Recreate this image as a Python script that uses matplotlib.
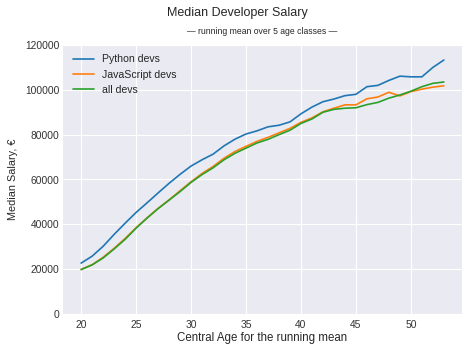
import matplotlib
matplotlib.use("Agg")
import matplotlib.pyplot as plt

ages = list(range(20, 54))
python_devs = [22700, 25800, 30200, 35500, 40500, 45300, 49600, 54000, 58300, 62300,
               66000, 68800, 71300, 75000, 78000, 80300, 81700, 83500, 84200, 85700,
               89300, 92300, 94700, 95900, 97400, 98000, 101400, 102000, 104200, 106100,
               105800, 105800, 110000, 113300]
js_devs = [19900, 22000, 25300, 29300, 33700, 38500, 42900, 47100, 50900, 55000,
           59000, 62700, 65800, 69500, 72500, 74800, 77000, 78800, 80800, 82800,
           85500, 87500, 90200, 91800, 93300, 93300, 96000, 96800, 98900, 97300,
           99200, 100300, 101200, 101800]
all_devs = [19800, 21900, 25000, 29000, 33300, 38300, 42800, 47000, 50800, 54600,
            58700, 62200, 65200, 68800, 71700, 74000, 76300, 77900, 80000, 82000,
            85000, 87000, 90000, 91300, 91800, 92000, 93400, 94400, 96300, 97700,
            99400, 101400, 102900, 103500]

plt.style.use("seaborn-v0_8-darkgrid")
plt.rcParams['font.family'] = ['Liberation Sans', 'DejaVu Sans']

fig = plt.figure(figsize=(4.74, 3.54), dpi=100)
ax = fig.add_axes([63/474, 1-314/354, (462-63)/474, (314-45)/354])

ax.plot(ages, python_devs, label="Python devs", lw=1.2)
ax.plot(ages, js_devs, label="JavaScript devs", lw=1.2)
ax.plot(ages, all_devs, label="all devs", lw=1.2)
ax.set_ylim(0, 120000)
ax.set_yticks(range(0, 120001, 20000))
ax.set_xticks([20, 25, 30, 35, 40, 45, 50])
ax.tick_params(axis='y', labelsize=7.4, colors='#333333', pad=2.5)
ax.tick_params(axis='x', labelsize=7.4, colors='#333333', pad=4)

ax.set_xlabel("Central Age for the running mean", fontsize=8.3, labelpad=2)
ax.set_ylabel("Median Salary, €", fontsize=7.8, labelpad=5)
ax.set_title("— running mean over 5 age classes —", fontsize=6.2, pad=8)
fig.suptitle("Median Developer Salary", fontsize=9, y=1-13/354, va='center')
ax.legend(loc="upper left", fontsize=7.6, frameon=False)

fig.savefig("out.png", dpi=100)
